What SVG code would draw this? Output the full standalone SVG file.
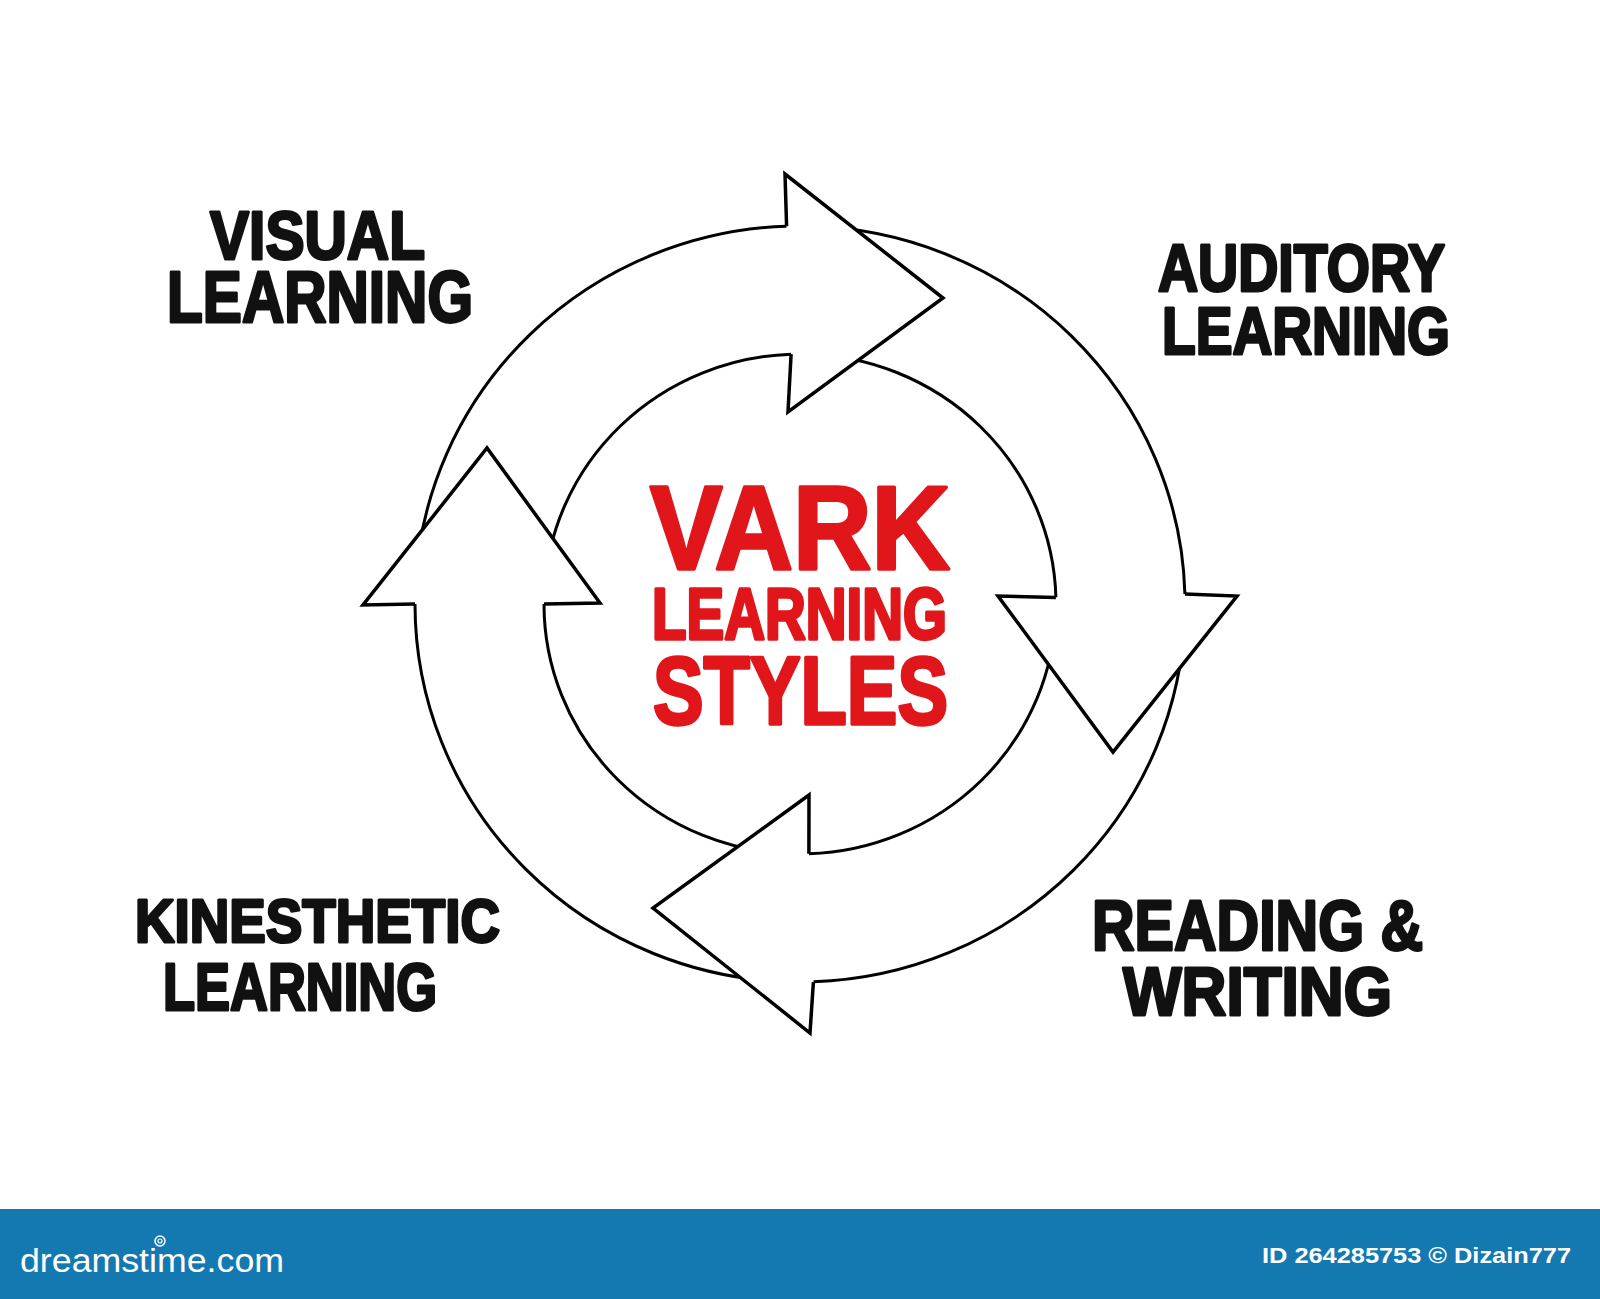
<svg xmlns="http://www.w3.org/2000/svg" width="1600" height="1299" viewBox="0 0 1600 1299">
<style>
.body{fill:#fff;stroke:#000;stroke-width:3;stroke-linejoin:miter}
.head{fill:#fff;stroke:#000;stroke-width:3.5;stroke-linejoin:miter}
.lbl{font-family:"Liberation Sans",Arial,sans-serif;font-weight:bold;fill:#111;stroke:#111;stroke-width:3;stroke-linejoin:round}
.ctr{font-family:"Liberation Sans",Arial,sans-serif;font-weight:bold;fill:#e0161b;stroke:#e0161b;stroke-width:3.5;stroke-linejoin:round}
.foot{font-family:"Liberation Sans",Arial,sans-serif;fill:#fff}
</style>
<rect x="0" y="0" width="1600" height="1299" fill="#fff"/>
<g id="cycle-arrows">
  <path class="body" d="M791.1,354.2 A256,250 0 0 0 544.4,590.9 L415.5,584.2 A385,378 0 0 1 786.6,226.2"/>
  <path class="body" d="M1055.9,597.5 A256,250 0 0 0 804.5,354 L806.7,226.1 A385,378 0 0 1 1184.9,594.1"/>
  <path class="body" d="M808.9,853.8 A256,250 0 0 0 1055.9,610.5 L1184.9,613.9 A385,378 0 0 1 813.4,981.8"/>
  <path class="body" d="M544,604 A256,250 0 0 0 795.5,854 L793.3,981.9 A385,378 0 0 1 415,604"/>
  <path class="head" d="M786.6,226.2 L785,174 L943,298 L788,412 L791.1,354.2"/>
  <path class="head" d="M1184.9,594.1 L1237,596 L1113,752 L998,596 L1055.9,597.5"/>
  <path class="head" d="M813.4,981.8 L810,1033 L653,908 L809,795 L808.9,853.8"/>
  <path class="head" d="M415,604 L363,605 L487,448 L600,603 L544,604"/>
</g>
<g id="center-title">
  <text class="ctr" x="650" y="569" font-size="118" textLength="300" lengthAdjust="spacingAndGlyphs">VARK</text>
  <text class="ctr" x="652" y="639" font-size="72" textLength="295" lengthAdjust="spacingAndGlyphs">LEARNING</text>
  <text class="ctr" x="653" y="724" font-size="96" textLength="295" lengthAdjust="spacingAndGlyphs">STYLES</text>
</g>
<g id="visual-learning">
  <text class="lbl" x="210" y="259" font-size="68" textLength="215" lengthAdjust="spacingAndGlyphs">VISUAL</text>
  <text class="lbl" x="167" y="322" font-size="72" textLength="306" lengthAdjust="spacingAndGlyphs">LEARNING</text>
</g>
<g id="auditory-learning">
  <text class="lbl" x="1158" y="291" font-size="67" textLength="287" lengthAdjust="spacingAndGlyphs">AUDITORY</text>
  <text class="lbl" x="1162" y="354" font-size="67" textLength="288" lengthAdjust="spacingAndGlyphs">LEARNING</text>
</g>
<g id="reading-writing">
  <text class="lbl" x="1092" y="950" font-size="71" textLength="331" lengthAdjust="spacingAndGlyphs">READING &amp;</text>
  <text class="lbl" x="1123" y="1015" font-size="69" textLength="269" lengthAdjust="spacingAndGlyphs">WRITING</text>
</g>
<g id="kinesthetic-learning">
  <text class="lbl" x="135" y="942" font-size="62" textLength="365" lengthAdjust="spacingAndGlyphs">KINESTHETIC</text>
  <text class="lbl" x="163" y="1010" font-size="67" textLength="274" lengthAdjust="spacingAndGlyphs">LEARNING</text>
</g>
<g id="footer">
  <rect x="0" y="1209" width="1600" height="90" fill="#1479b0"/>
  <text class="foot" x="20" y="1272" font-size="33" textLength="264" lengthAdjust="spacingAndGlyphs">dreamstime.com</text>
  <circle cx="160" cy="1241" r="5" fill="none" stroke="#fff" stroke-width="1.5"/>
  <circle cx="160" cy="1241" r="2" fill="none" stroke="#fff" stroke-width="1.2"/>
  <text class="foot" x="1262" y="1263" font-size="22" font-weight="bold" textLength="309" lengthAdjust="spacingAndGlyphs">ID 264285753 © Dizain777</text>
</g>
</svg>
